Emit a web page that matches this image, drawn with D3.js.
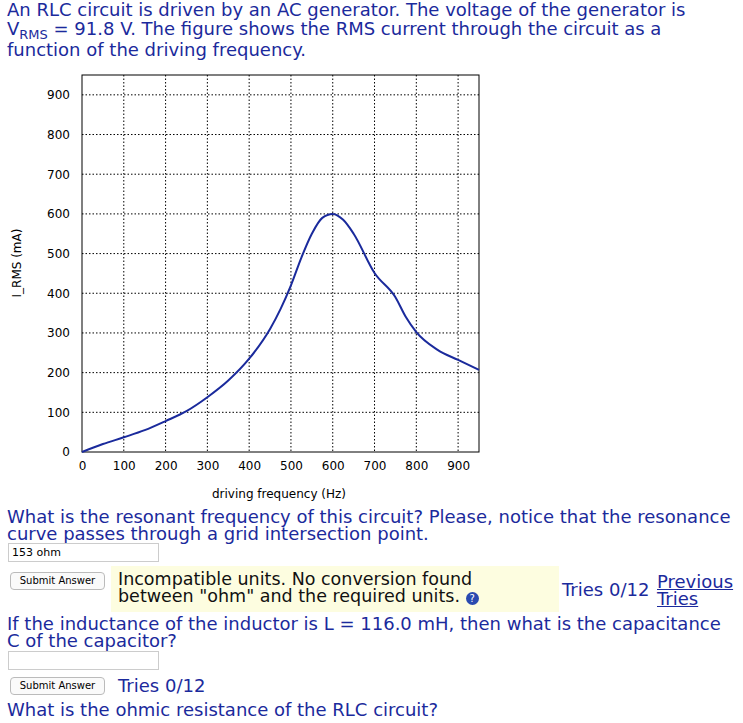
<!DOCTYPE html>
<html><head><meta charset="utf-8">
<script src="https://cdn.jsdelivr.net/npm/d3@7"></script>
<style>
body{margin:0;font-family:"DejaVu Sans",sans-serif;background:#fff;width:743px;height:723px;overflow:hidden;position:relative}
.q{position:absolute;left:7px;color:#1b2a9c;font-size:18px;line-height:17px;white-space:nowrap}
.inp{position:absolute;left:8px;width:146px;height:17px;border:1px solid #ccc;font-size:11px;line-height:17px;padding-left:3px}
.btn{position:absolute;left:10px;width:93px;height:16px;border:1px solid #bbb;border-radius:4px;font-size:10px;text-align:center;line-height:16px;background:#fafafa}
</style></head><body>
<svg id="chart" width="743" height="505" style="position:absolute;left:0;top:0"></svg>
<div class="q" style="top:0;line-height:19px">An RLC circuit is driven by an AC generator. The voltage of the generator is<br>V<span style="font-size:13px;position:relative;top:4px">RMS</span> = 91.8 V. The figure shows the RMS current through the circuit as a<br>function of the driving frequency.</div>
<div class="q" style="top:508px">What is the resonant frequency of this circuit? Please, notice that the resonance<br>curve passes through a grid intersection point.</div>
<div class="inp" style="top:543px">153 ohm</div>
<div class="btn" style="top:572px">Submit Answer</div>
<div style="position:absolute;left:111px;top:566px;width:448px;height:46px;background:#fdfde0"></div>
<div style="position:absolute;left:118px;top:571px;font-size:17.5px;line-height:17px;color:#111;white-space:nowrap">Incompatible units. No conversion found<br>between "ohm" and the required units. <span style="display:inline-block;width:13px;height:13px;border-radius:7px;background:#2a4ab0;color:#fff;font-size:10px;line-height:13px;text-align:center">?</span></div>
<div class="q" style="left:562px;top:581px">Tries 0/12</div>
<div class="q" style="left:657px;top:573px;text-decoration:underline">Previous<br>Tries</div>
<div class="q" style="top:615px">If the inductance of the inductor is L = 116.0 mH, then what is the capacitance<br>C of the capacitor?</div>
<div class="inp" style="top:651px"></div>
<div class="btn" style="top:677px">Submit Answer</div>
<div class="q" style="left:118px;top:677px">Tries 0/12</div>
<div class="q" style="top:701px">What is the ohmic resistance of the RLC circuit?</div>
<script>
const freq = [0, 50, 100, 150, 200, 250, 300, 350, 400, 450, 475, 500, 525, 550, 575, 600, 625, 650, 700, 750, 775, 800, 850, 900, 950];
const current = [0, 20, 37, 55, 78, 103, 138, 180, 235, 310, 360, 420, 490, 550, 590, 600, 585, 550, 451, 390, 340, 302, 258, 232, 207];
const ticks = [0, 100, 200, 300, 400, 500, 600, 700, 800, 900];

const svg = d3.select('#chart');
const x = d3.scaleLinear().domain([0, 950]).range([82, 479]);
const y = d3.scaleLinear().domain([0, 950]).range([452, 75]);

svg.append('g').selectAll('line.v').data(ticks.slice(1)).enter().append('line')
	.attr('x1', d => x(d)).attr('x2', d => x(d)).attr('y1', 75).attr('y2', 452)
	.attr('stroke', '#000').attr('stroke-dasharray', '1.5,2');
svg.append('g').selectAll('line.h').data(ticks.slice(1)).enter().append('line')
	.attr('x1', 82).attr('x2', 479).attr('y1', d => y(d)).attr('y2', d => y(d))
	.attr('stroke', '#000').attr('stroke-dasharray', '1.5,2');
svg.append('rect').attr('x', 82).attr('y', 75).attr('width', 397).attr('height', 377)
	.attr('fill', 'none').attr('stroke', '#000');

svg.append('g').attr('transform', 'translate(0,452)')
	.call(d3.axisBottom(x).tickValues(ticks).tickSize(0).tickPadding(9))
	.call(g => g.select('.domain').remove())
	.selectAll('text').attr('font-size', 12).attr('font-family', 'DejaVu Sans');
svg.append('g').attr('transform', 'translate(82,0)')
	.call(d3.axisLeft(y).tickValues(ticks).tickSize(0).tickPadding(12))
	.call(g => g.select('.domain').remove())
	.selectAll('text').attr('font-size', 12).attr('font-family', 'DejaVu Sans');

svg.append('text').attr('x', 279).attr('y', 498).attr('text-anchor', 'middle')
	.attr('font-size', 12).text('driving frequency (Hz)');
svg.append('text').attr('transform', 'translate(21,263) rotate(-90)').attr('text-anchor', 'middle')
	.attr('font-size', 12).text('I_RMS (mA)');

svg.append('path').datum(freq.map((f, i) => [f, current[i]]))
	.attr('d', d3.line().x(d => x(d[0])).y(d => y(d[1])).curve(d3.curveMonotoneX))
	.attr('fill', 'none').attr('stroke', '#1a2a9c').attr('stroke-width', 2);
</script>
</body></html>
